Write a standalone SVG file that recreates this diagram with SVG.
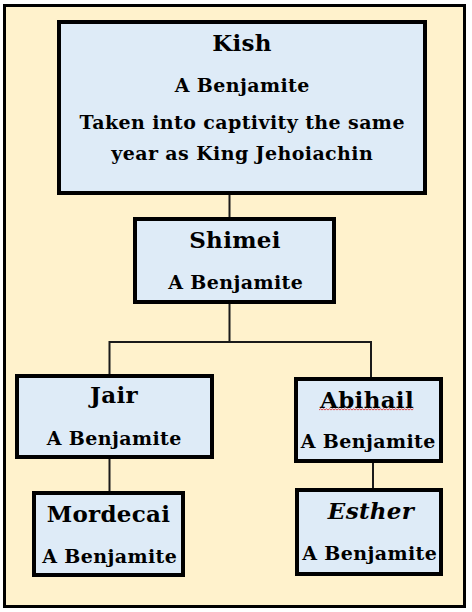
<svg xmlns="http://www.w3.org/2000/svg" width="472" height="612" viewBox="0 0 472 612">
<style>
.frame{fill:#FFF2CC;stroke:#000;stroke-width:3}
.box{fill:#DEEBF7;stroke:#000;stroke-width:4}
.conn{stroke:#1a1a1a;stroke-width:2;fill:none}
text{font-family:"DejaVu Serif","Liberation Serif",serif;font-weight:bold;fill:#000;text-anchor:middle}
.name{font-size:23px;letter-spacing:0.3px}
.sub{font-size:19px;letter-spacing:0.4px}
.it{font-style:italic}
</style>
<rect class="frame" x="4.5" y="5.5" width="460" height="601"/>
<g id="connectors">
<line class="conn" x1="229.5" y1="193" x2="229.5" y2="219"/>
<polyline class="conn" points="229.5,302 229.5,342 109.5,342 109.5,376"/>
<polyline class="conn" points="229.5,342 371,342 371,379"/>
<line class="conn" x1="109.5" y1="457" x2="109.5" y2="493"/>
<line class="conn" x1="373" y1="461" x2="373" y2="490"/>
</g>
<g id="kish">
<rect class="box" x="59" y="22" width="366" height="171"/>
<text class="name" x="242" y="51">Kish</text>
<text class="sub" x="242.2" y="92">A Benjamite</text>
<text class="sub" x="242.2" y="129">Taken into captivity the same</text>
<text class="sub" x="242.2" y="160">year as King Jehoiachin</text>
</g>
<g id="shimei">
<rect class="box" x="135" y="219" width="199" height="83"/>
<text class="name" x="235" y="248">Shimei</text>
<text class="sub" x="235.7" y="289">A Benjamite</text>
</g>
<g id="jair">
<rect class="box" x="17" y="376" width="195" height="81"/>
<text class="name" x="114" y="403">Jair</text>
<text class="sub" x="114.2" y="445">A Benjamite</text>
</g>
<g id="abihail">
<rect class="box" x="296" y="379" width="145" height="82"/>
<text class="name" x="367" y="408">Abihail</text>
<path d="M319,410 l1.5,-1.2 l1.5,1.2 l1.5,-1.2 l1.5,1.2 l1.5,-1.2 l1.5,1.2 l1.5,-1.2 l1.5,1.2 l1.5,-1.2 l1.5,1.2 l1.5,-1.2 l1.5,1.2 l1.5,-1.2 l1.5,1.2 l1.5,-1.2 l1.5,1.2 l1.5,-1.2 l1.5,1.2 l1.5,-1.2 l1.5,1.2 l1.5,-1.2 l1.5,1.2 l1.5,-1.2 l1.5,1.2 l1.5,-1.2 l1.5,1.2 l1.5,-1.2 l1.5,1.2 l1.5,-1.2 l1.5,1.2 l1.5,-1.2 l1.5,1.2 l1.5,-1.2 l1.5,1.2 l1.5,-1.2 l1.5,1.2 l1.5,-1.2 l1.5,1.2 l1.5,-1.2 l1.5,1.2 l1.5,-1.2 l1.5,1.2 l1.5,-1.2 l1.5,1.2 l1.5,-1.2 l1.5,1.2 l1.5,-1.2 l1.5,1.2 l1.5,-1.2 l1.5,1.2 l1.5,-1.2 l1.5,1.2 l1.5,-1.2 l1.5,1.2 l1.5,-1.2 l1.5,1.2 l1.5,-1.2 l1.5,1.2 l1.5,-1.2 l1.5,1.2 l1.5,-1.2 l1.5,1.2 l1.5,-1.2" fill="none" stroke="#e02020" stroke-width="0.8"/>
<text class="sub" x="368.2" y="448">A Benjamite</text>
</g>
<g id="mordecai">
<rect class="box" x="34" y="493" width="149" height="82"/>
<text class="name" x="108.5" y="522">Mordecai</text>
<text class="sub" x="109.7" y="563">A Benjamite</text>
</g>
<g id="esther">
<rect class="box" x="297" y="490" width="144" height="84"/>
<text class="name it" x="371" y="519">Esther</text>
<text class="sub" x="369.7" y="560">A Benjamite</text>
</g>
</svg>
